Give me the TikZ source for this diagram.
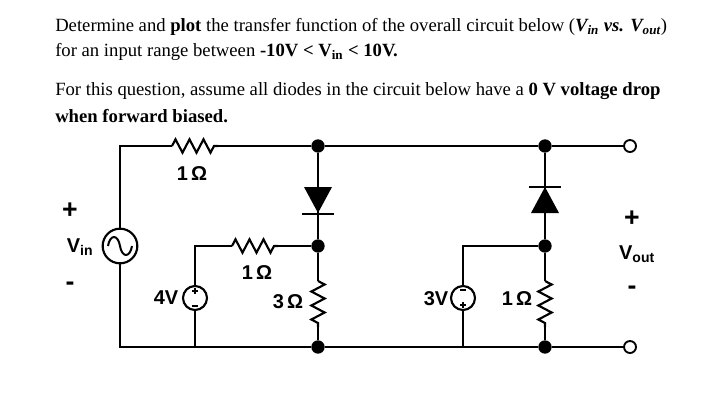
\documentclass[tikz,border=0pt]{standalone}
\usepackage{fontspec}
\setmainfont{Liberation Serif}
\newfontfamily\arialf{Liberation Sans}
\usetikzlibrary{decorations.pathmorphing}

\tikzset{
  wire/.style={line width=1.6pt},
  dot/.style={circle,fill=black,inner sep=0pt,minimum size=10pt},
  term/.style={circle,draw,fill=white,line width=1.4pt,inner sep=0pt,minimum size=9pt},
  zz/.style={decorate,decoration={zigzag,segment length=10.5pt,amplitude=5pt}},
  lab/.style={font=\arialf\bfseries\fontsize{15pt}{17pt}\selectfont,inner sep=0.75pt},
  sgn/.style={font=\arialf\bfseries\fontsize{20pt}{22pt}\selectfont,inner sep=0.75pt},
  src/.style={circle,draw,line width=1.6pt,inner sep=0pt},
  txt/.style={anchor=west,inner sep=0pt,font=\fontsize{14pt}{16pt}\selectfont}
}

\begin{document}
\begin{tikzpicture}[x=0.75pt,y=0.75pt,yscale=-1,xscale=1]
        \useasboundingbox (0,0) rectangle (716,404);

        % Text Node
        \draw (55,27) node [txt] {Determine and \textbf{plot} the transfer function of the overall circuit below (\textbf{\textit{V\textsubscript{in} vs. V\textsubscript{out}}})};
        \draw (55,52) node [txt] {for an input range between \textbf{-10V < V\textsubscript{in} < 10V.}};
        \draw (55,91) node [txt] {For this question, assume all diodes in the circuit below have a \textbf{0 V voltage drop}};
        \draw (55,116) node [txt] {\textbf{when forward biased.}};

        % junctions
        \coordinate (tl) at (120,146);
        \coordinate (bl) at (120,347);
        \node [dot] (a) at (318,146) {};
        \node [dot] (b) at (318,246) {};
        \node [dot] (c) at (318,347) {};
        \node [dot] (d) at (545,146) {};
        \node [dot] (e) at (545,246) {};
        \node [dot] (f) at (545,347) {};
        \node [term] (ot) at (630,146) {};
        \node [term] (ob) at (630,347) {};
        \coordinate (m) at (195,246);
        \coordinate (mb) at (195,347);
        \coordinate (r) at (463,246);
        \coordinate (rb) at (463,347);

        % sources
        \node [src,minimum size=26pt] (vin) at (120,246) {};
        \draw [line width=1.5pt] (108,246) .. controls (110,234) and (118,234) .. (120,246) .. controls (122,258) and (130,258) .. (132,246);
        \node [src,minimum size=18pt] (s4) at (195,298) {};
        \node [src,minimum size=18pt] (s3) at (463,298) {};
        \draw [line width=0.9pt] (192,291) -- (198,291) (195,288) -- (195,294) (192,306) -- (198,306);
        \draw [line width=0.9pt] (460,290) -- (466,290) (460,305) -- (466,305) (463,302) -- (463,308);

        % Straight Lines
        \draw [wire] (vin.north) -- (tl) -- (172,146);
        \draw [wire,zz] (172,146) -- (218,146);
        \draw [wire] (218,146) -- (a) -- (d) -- (ot);
        \draw [wire] (vin.south) -- (bl) -- (mb) -- (c) -- (f) -- (ob);
        \draw [wire] (s4.north) -- (m) -- (232,246);
        \draw [wire,zz] (232,246) -- (278,246);
        \draw [wire] (278,246) -- (b);
        \draw [wire] (s4.south) -- (mb);
        \draw [wire] (b) -- (318,281);
        \draw [wire,zz] (318,281) -- (318,327);
        \draw [wire] (318,327) -- (c);
        \draw [wire] (s3.north) -- (r) -- (e);
        \draw [wire] (s3.south) -- (rb);
        \draw [wire] (e) -- (545,281);
        \draw [wire,zz] (545,281) -- (545,327);
        \draw [wire] (545,327) -- (f);

        % diodes
        \draw [wire] (a) -- (b);
        \fill (304,187) -- (332,187) -- (318,213) -- cycle;
        \draw [wire] (302,214) -- (334,214);
        \draw [wire] (d) -- (e);
        \fill (531,213) -- (559,213) -- (545,187) -- cycle;
        \draw [wire] (529,187) -- (561,187);

        % Text Node
        \draw (70,211) node [sgn] {+};
        \draw (80,247) node [lab] {V\textsubscript{in}};
        \draw (70,286) node [sgn] {-};
        \draw (192,174) node [lab] {1\,Ω};
        \draw (257,273) node [lab] {1\,Ω};
        \draw (288,302) node [lab] {3\,Ω};
        \draw (166,298) node [lab] {4V};
        \draw (436,299) node [lab] {3V};
        \draw (517,299) node [lab] {1\,Ω};
        \draw (632,219) node [sgn] {+};
        \draw (637,254) node [lab] {V\textsubscript{out}};
        \draw (632,290) node [sgn] {-};
\end{tikzpicture}
\end{document}
